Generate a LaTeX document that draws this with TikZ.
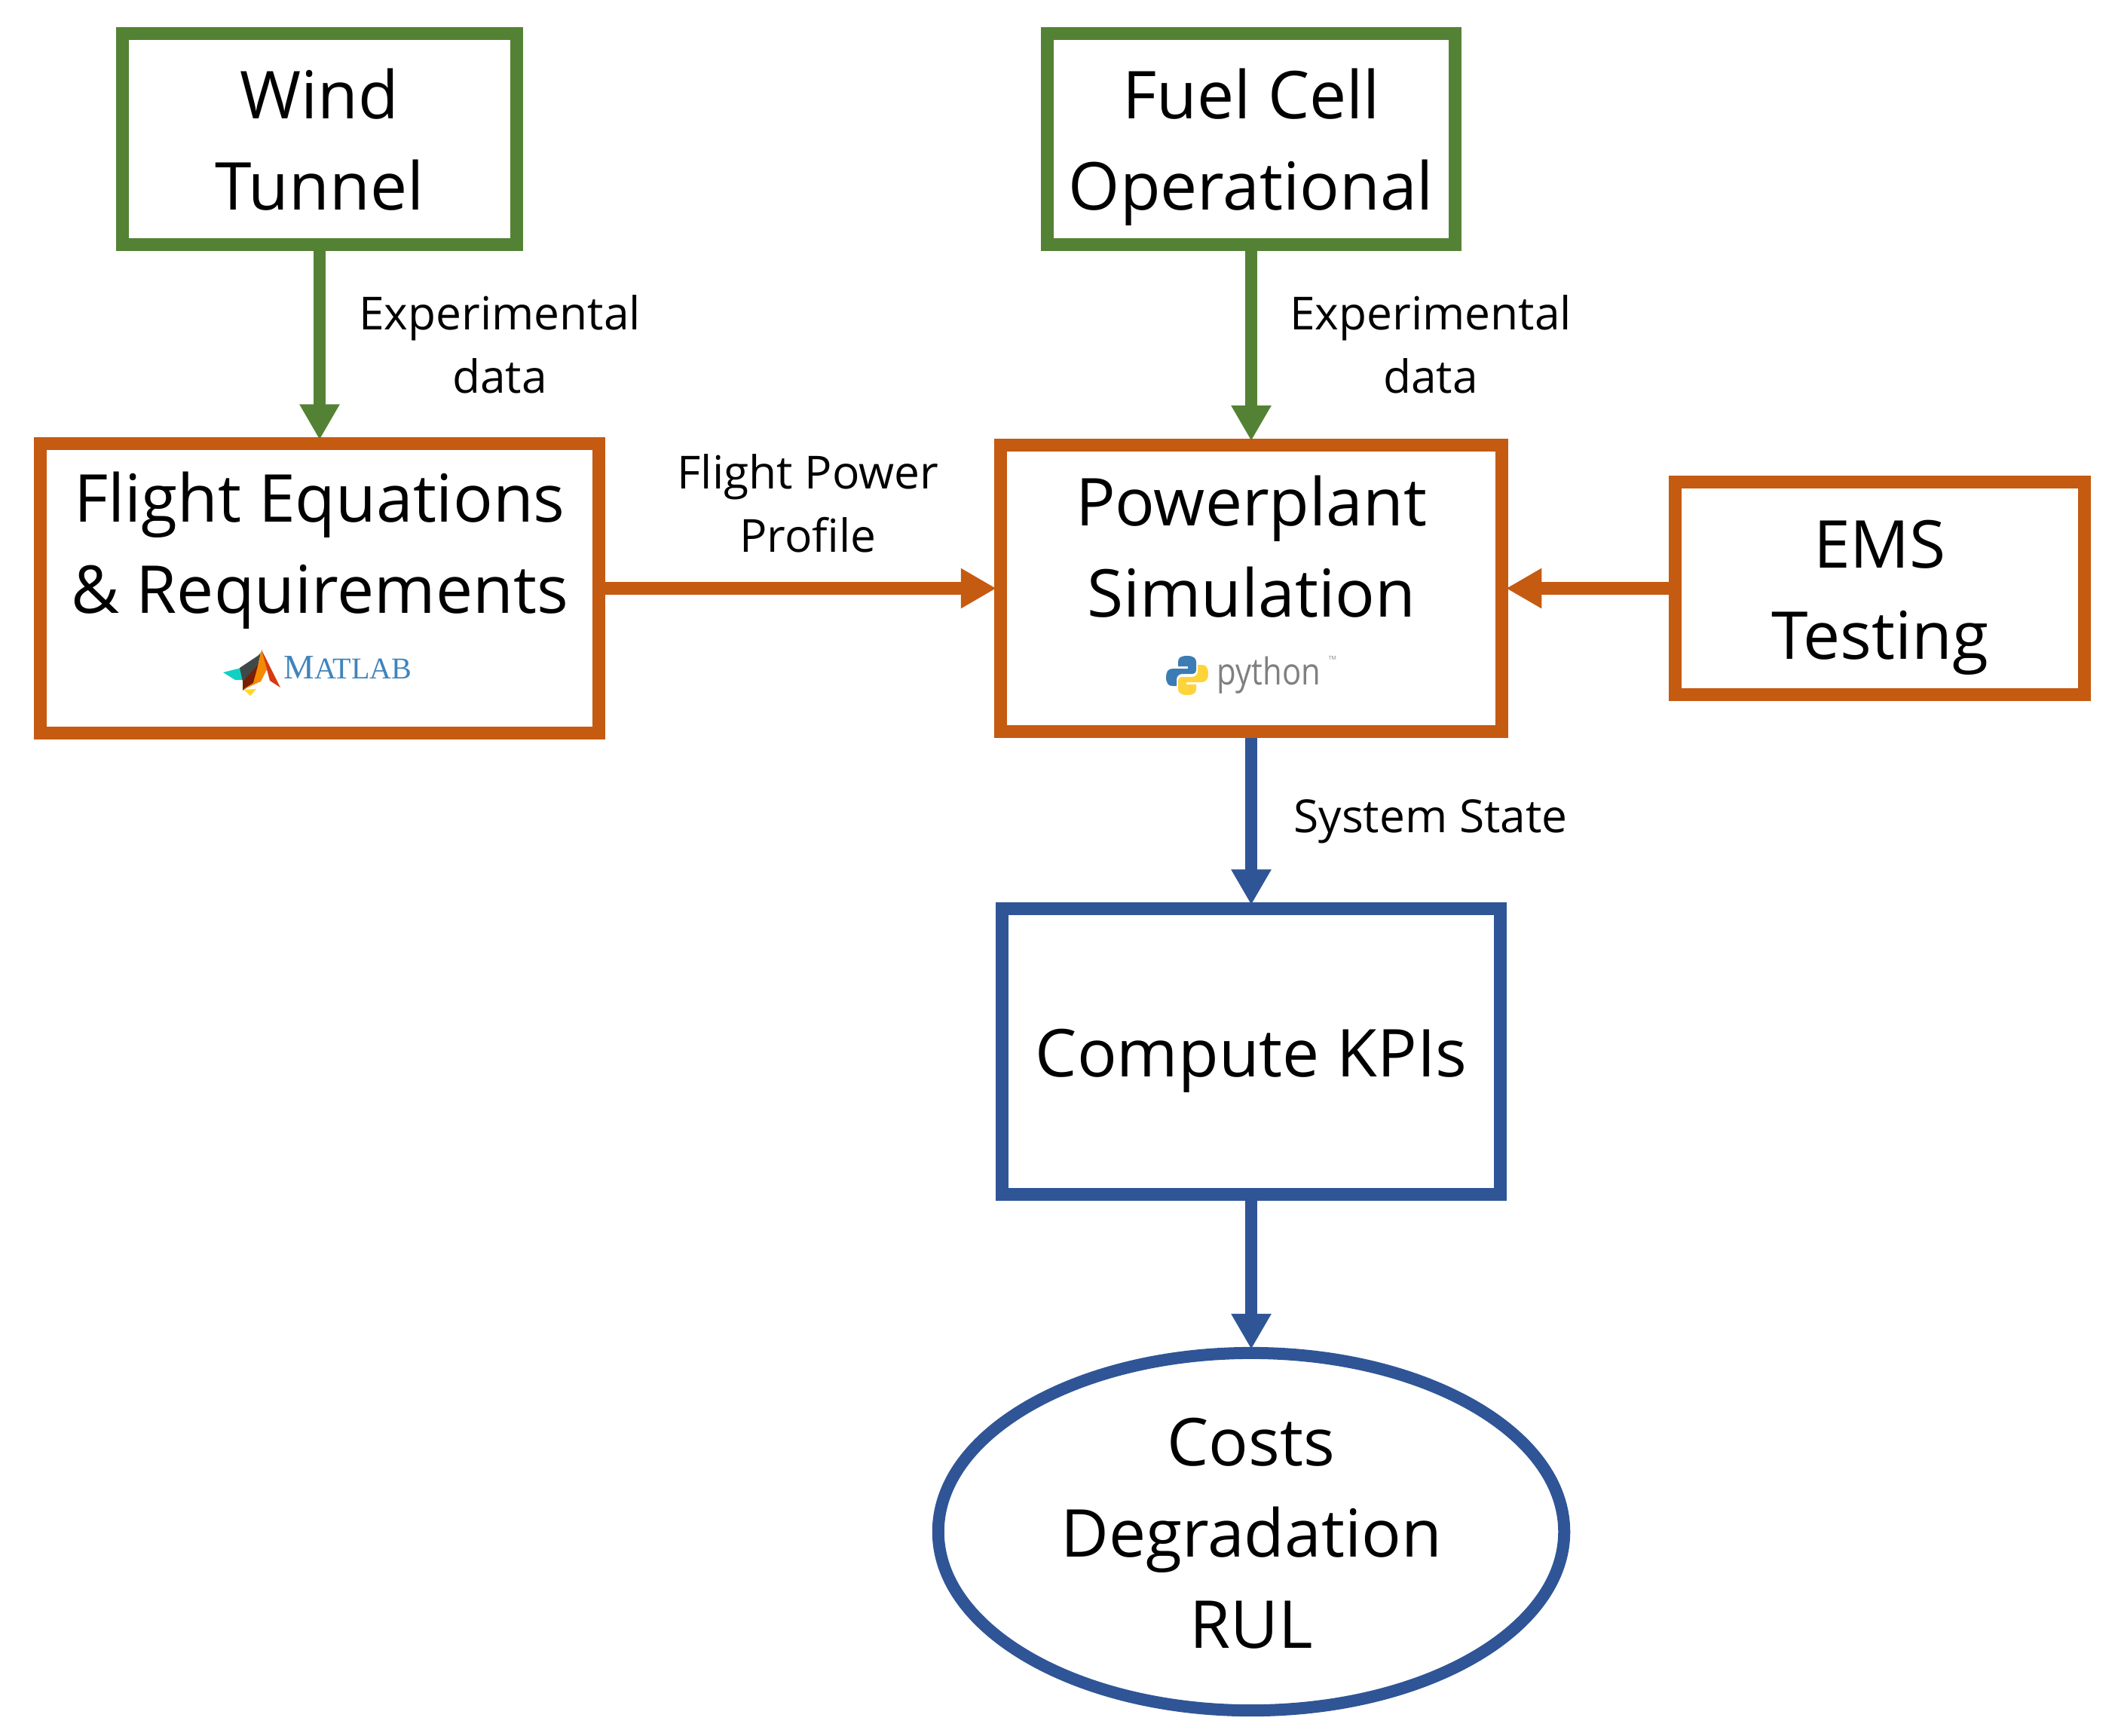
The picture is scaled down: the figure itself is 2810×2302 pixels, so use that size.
\documentclass[tikz,border=0pt]{standalone}
\usepackage{fontspec}
\setmainfont{Open Sans}
\newfontfamily\logofont{Liberation Serif}
\usetikzlibrary{arrows.meta,shapes.geometric}
\definecolor{boxgreen}{HTML}{548235}
\definecolor{boxorange}{HTML}{C55A11}
\definecolor{boxblue}{HTML}{2F5597}
\definecolor{matcyan}{HTML}{10D0C4}
\definecolor{matdark}{HTML}{3F4A48}
\definecolor{matbody}{HTML}{7A1E08}
\definecolor{matorange}{HTML}{F58A00}
\definecolor{matred}{HTML}{D63A10}
\definecolor{matyellow}{HTML}{FFD820}
\definecolor{matblue}{HTML}{3F84BC}
\definecolor{pyblue}{HTML}{3C7CB4}
\definecolor{pyyellow}{HTML}{FFD43B}
% keep the text lines at the same height whatever letters they hold
\newcommand{\topfix}{\rule{0pt}{26pt}}
\newcommand{\botfix}{\rule[-7.2pt]{0pt}{0pt}}
\tikzset{
  box/.style={draw,rectangle,line width=0.17cm,inner sep=0pt,align=center,
    font=\fontsize{24.9}{34.4}\selectfont,text=black},
  lab/.style={align=center,inner sep=0pt,font=\fontsize{17.2}{24}\selectfont,text=black},
  arr/.style={line width=0.165cm,shorten >=-0.03cm,-{Triangle[length=0.47cm,width=0.5cm]}},
}
\begin{document}
\begin{tikzpicture}[x=0.01cm,y=-0.01cm]
\useasboundingbox (0,0) rectangle (2810,2302);

% boxes
\node[box,draw=boxgreen,minimum width=5.22cm,minimum height=2.80cm] (wind) at (424,184.5) {\topfix Wind\\Tunnel\botfix};
\node[box,draw=boxgreen,minimum width=5.41cm,minimum height=2.80cm] (fuel) at (1660,184.5) {\topfix Fuel Cell\\Operational\botfix};
\node[box,draw=boxorange,minimum width=7.40cm,minimum height=3.83cm] (flight) at (424,780.5) {\topfix Flight Equations\\\& Requirements\\~\botfix};
\node[box,draw=boxorange,minimum width=6.65cm,minimum height=3.80cm] (plant) at (1660,780.5) {\rule{0pt}{28.6pt}Powerplant\\Simulation\\~\botfix};
\node[box,draw=boxorange,minimum width=5.42cm,minimum height=2.82cm] (ems) at (2494,780.5) {\topfix EMS\\Testing\botfix};
\node[box,draw=boxblue,minimum width=6.60cm,minimum height=3.78cm] (kpi) at (1660,1395) {\topfix Compute KPIs\botfix};
\node[box,draw=boxblue,ellipse,line width=0.16cm,inner sep=-1cm,minimum width=8.30cm,minimum height=4.74cm] (rul) at (1660,2032) {\topfix Costs\\Degradation\\RUL\botfix};

% connectors
\draw[arr,boxgreen] (wind) -- (flight.north);
\draw[arr,boxgreen] (fuel) -- (plant.north);
\draw[arr,boxorange] (flight) -- (plant);
\draw[arr,boxorange] (ems) -- (plant);
\draw[arr,boxblue] (plant) -- (kpi.north);
\draw[arr,boxblue] (kpi) -- (rul.north);

% connector labels
\node[lab] (lab1) at (663,457) {Experimental\\data};
\node[lab] (lab2) at (1898,457) {Experimental\\data};
\node[lab] (lab3) at (1072,668) {Flight Power\\Profile};
\node[lab] (lab4) at (1898,1090) {System State};

% matlab logo
\fill[matcyan] (296,892) -- (320,886) -- (340,880) -- (330,902) -- (312,902) -- cycle;
\fill[matdark] (318,886) -- (342,870) -- (346,866) -- (342,884) -- (322,904) -- cycle;
\fill[matbody] (322,904) -- (344,880) -- (346,900) -- (322,916) -- cycle;
\fill[matorange] (347,862) -- (354,888) -- (346,904) -- (322,915) -- (336,906) -- (342,884) -- cycle;
\fill[matred] (347,862) -- (372,912) -- (358,903) -- (354,888) -- cycle;
\fill[matyellow] (324,915) -- (340,914) -- (332,923) -- cycle;
\node[inner sep=0pt,anchor=base west,text=matblue] (mlab) at (376,900) {\logofont\fontsize{13}{13}\selectfont M\fontsize{11.4}{13}\selectfont ATLAB};

% python logo
\fill[pyblue] (1575,870) .. controls (1566,870) and (1563,873) .. (1563,878) -- (1563,884) -- (1576,884) -- (1576,887) -- (1556,887)
  .. controls (1550,887) and (1547,891) .. (1547,898) .. controls (1547,906) and (1550,910) .. (1555,910) -- (1561,910) -- (1561,902)
  .. controls (1561,897) and (1564,894) .. (1569,894) -- (1581,894) .. controls (1585,894) and (1587,892) .. (1587,888) -- (1587,878)
  .. controls (1587,873) and (1583,870) .. (1575,870) -- cycle;
\fill[pyyellow] (1575,922) .. controls (1584,922) and (1587,919) .. (1587,914) -- (1587,908) -- (1574,908) -- (1574,905) -- (1594,905)
  .. controls (1600,905) and (1603,901) .. (1603,894) .. controls (1603,886) and (1600,882) .. (1595,882) -- (1589,882) -- (1589,890)
  .. controls (1589,895) and (1586,898) .. (1581,898) -- (1569,898) .. controls (1565,898) and (1563,900) .. (1563,904) -- (1563,914)
  .. controls (1563,919) and (1567,922) .. (1575,922) -- cycle;
\node[inner sep=0pt,anchor=base west,text=black!50,xscale=0.85,transform shape] (ptxt) at (1614,908) {\fontsize{14}{14}\selectfont python};
\node[inner sep=0pt,anchor=base west,text=black!35] (ptm) at (1762,880) {\fontsize{4}{4}\selectfont ™};
\end{tikzpicture}
\end{document}
